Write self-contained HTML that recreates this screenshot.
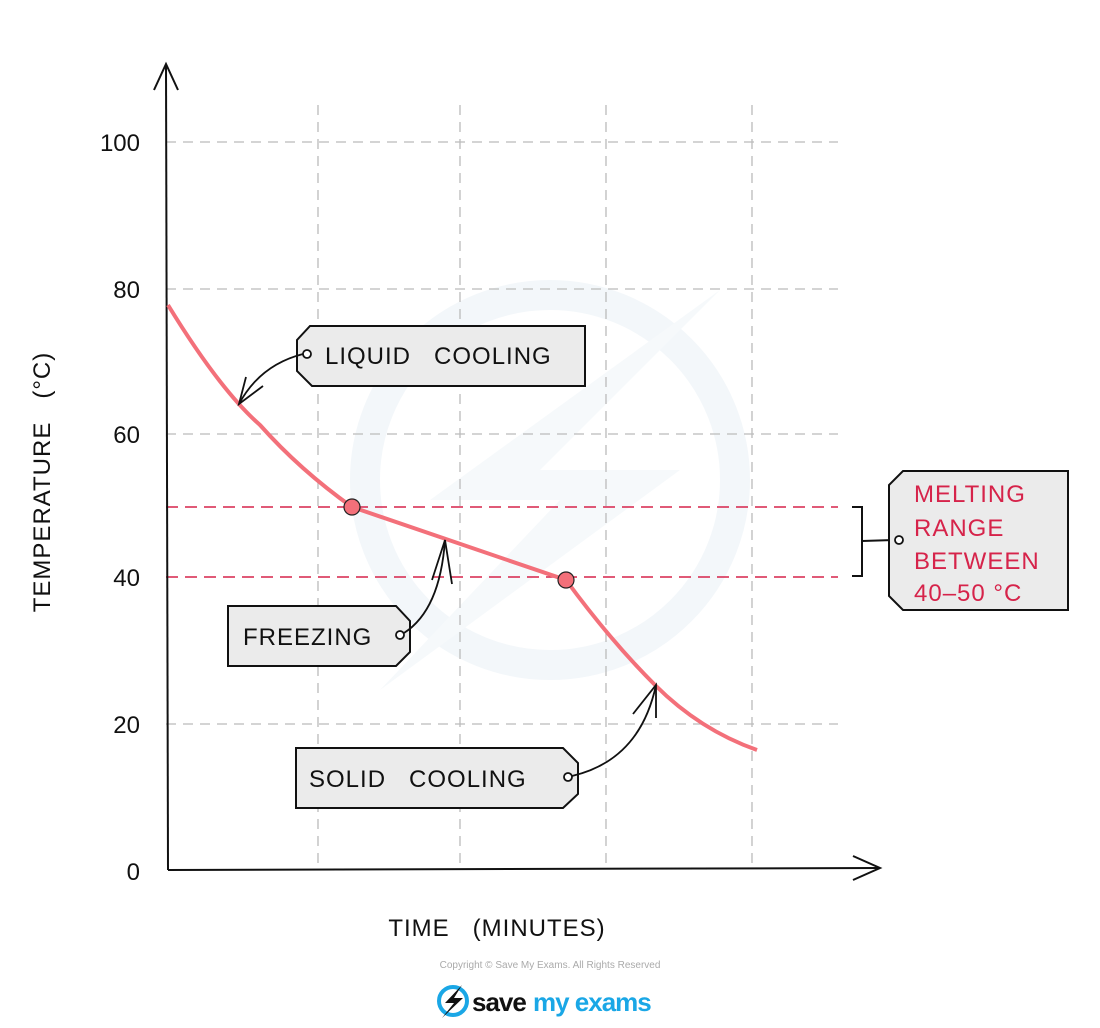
<!DOCTYPE html>
<html><head><meta charset="utf-8"><style>body{margin:0;background:#fff}svg{display:block}text{font-family:"Liberation Sans",sans-serif;white-space:pre}</style></head><body>
<svg width="1100" height="1028" viewBox="0 0 1100 1028" xmlns="http://www.w3.org/2000/svg" xml:space="preserve">
<circle cx="550" cy="480" r="185" fill="none" stroke="#f3f7fa" stroke-width="30"/>
<polygon points="720,290 430,500 560,500 380,690 680,470 540,470" fill="#f6f9fb"/>
<g stroke="#bbb" stroke-width="1.3" stroke-dasharray="10,7" fill="none">
<line x1="166" y1="142" x2="838" y2="142"/><line x1="166" y1="289" x2="838" y2="289"/>
<line x1="166" y1="434" x2="838" y2="434"/><line x1="166" y1="724" x2="838" y2="724"/>
<line x1="318" y1="105" x2="318" y2="870"/><line x1="460" y1="105" x2="460" y2="870"/>
<line x1="606" y1="105" x2="606" y2="870"/><line x1="752" y1="105" x2="752" y2="870"/>
</g>
<g stroke="#d6234a" stroke-width="1.5" stroke-dasharray="12,7"><line x1="166" y1="507" x2="838" y2="507"/><line x1="166" y1="577" x2="838" y2="577"/></g>
<g stroke="#111" stroke-width="2" fill="none">
<line x1="166" y1="64" x2="168" y2="870"/><polyline points="154,90 166,64 178,90"/>
<line x1="168" y1="870" x2="878" y2="868"/><polyline points="853,856 880,868 853,880"/>
<polyline points="852,507 862,507 862,576 852,576"/><line x1="862" y1="541" x2="896" y2="540"/>
</g>
<g font-size="24" fill="#111" text-anchor="end"><text x="140" y="151">100</text><text x="140" y="298">80</text><text x="140" y="443">60</text><text x="140" y="586">40</text><text x="140" y="733">20</text><text x="140" y="880">0</text></g>
<text x="50" y="482" font-size="24" fill="#111" text-anchor="middle" transform="rotate(-90 50 482)" letter-spacing="1">TEMPERATURE   (°C)</text>
<text x="497" y="936" font-size="24" fill="#111" text-anchor="middle" letter-spacing="1">TIME   (MINUTES)</text>
<path d="M168,305 Q220,390 260,425 Q300,470 352,507 L566,580 Q610,640 655,685 Q700,730 757,750" fill="none" stroke="#f3707a" stroke-width="4"/>
<circle cx="352" cy="507" r="8" fill="#f3707a" stroke="#222" stroke-width="1.2"/><circle cx="566" cy="580" r="8" fill="#f3707a" stroke="#222" stroke-width="1.2"/>
<g fill="#ebebeb" stroke="#111" stroke-width="2">
<polygon points="310,326 585,326 585,386 312,386 297,371 297,340"/>
<polygon points="228,606 396,606 410,621 410,652 396,666 228,666"/>
<polygon points="296,748 563,748 578,763 578,794 563,808 296,808"/>
<polygon points="903,471 1068,471 1068,610 903,610 889,596 889,485"/>
</g>
<g font-size="24" fill="#111" letter-spacing="1"><text x="325" y="364">LIQUID   COOLING</text><text x="243" y="645">FREEZING</text><text x="309" y="787">SOLID   COOLING</text></g>
<g font-size="24" fill="#d6234a" letter-spacing="1"><text x="914" y="502">MELTING</text><text x="914" y="536">RANGE</text><text x="914" y="569">BETWEEN</text><text x="914" y="601">40–50 °C</text></g>
<g stroke="#111" stroke-width="1.8" fill="none">
<circle cx="307" cy="354" r="4" fill="#fff"/><circle cx="400" cy="635" r="4" fill="#fff"/><circle cx="568" cy="777" r="4" fill="#fff"/><circle cx="899" cy="540" r="4" fill="#fff"/>
<path d="M303,354 Q260,365 239,404"/><polyline points="246,377 239,404 263,386"/>
<path d="M404,633 Q440,610 445,540"/><polyline points="432,580 445,540 452,584"/>
<path d="M572,776 Q640,760 656,685"/><polyline points="633,714 656,685 656,718"/>
</g>
<text x="550" y="968" font-size="10" fill="#aaa" text-anchor="middle">Copyright © Save My Exams. All Rights Reserved</text>
<circle cx="453" cy="1001" r="14" fill="none" stroke="#1aa7e6" stroke-width="4"/>
<polygon points="462,985 445,1003 454,1003 442,1018 463,998 454,998" fill="#111"/>
<text x="472" y="1011" font-size="26" font-weight="bold" fill="#111" letter-spacing="-1">save</text>
<text x="533" y="1011" font-size="26" font-weight="bold" fill="#1aa7e6" letter-spacing="-1">my exams</text>
</svg>
</body></html>
